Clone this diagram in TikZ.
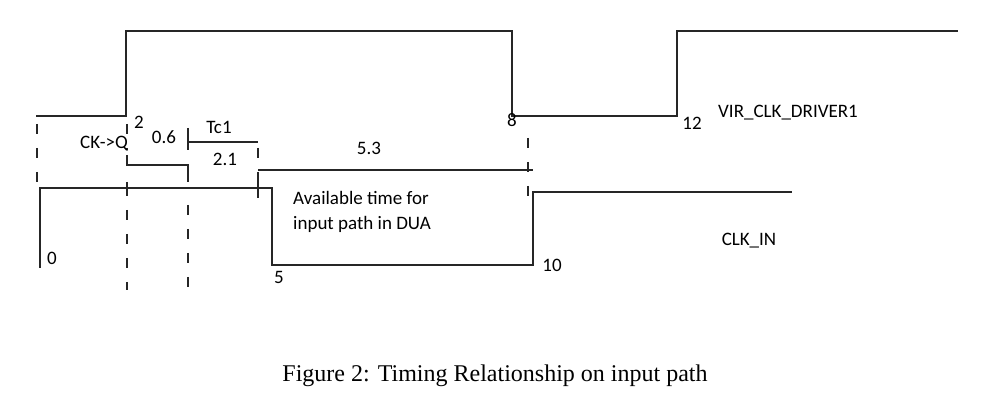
\documentclass[tikz,border=0pt]{standalone}
\usepackage{fontspec}
\setmainfont{Carlito}
\newfontfamily\capfont{Liberation Serif}
\begin{document}
\begin{tikzpicture}[x=1pt,y=-1pt,
  wave/.style={line width=1.2pt,black!85},
  dsh/.style={line width=1.1pt,black!85,dash pattern=on 10pt off 14pt},
  lbl/.style={font=\fontsize{19}{22}\selectfont,inner sep=0pt}]
\useasboundingbox (0,0) rectangle (988,411);
% VIR_CLK_DRIVER1
\draw[wave] (36,116) -- (126,116) -- (126,31) -- (512,31) -- (512,116) -- (677,116) -- (677,31) -- (958,31);
% CLK_IN
\draw[wave] (40,268) -- (40,188) -- (272,188) -- (272,265) -- (533,265) -- (533,192) -- (792,192);
% dashed guides
\draw[dsh] (37,124) -- (37,188);
\draw[dsh] (127,124) -- (127,150);
\draw[dsh] (127,210) -- (127,290);
\draw[dsh] (188,205) -- (188,295);
\draw[dsh] (258,148) -- (258,198);
\draw[dsh] (528,138) -- (528,200);
% brackets
\draw[wave] (127,155) -- (127,165) -- (188,165) -- (188,182);
\draw[wave] (188,128) -- (188,150);
\draw[wave] (188,142) -- (258,142);
\draw[wave] (258,170) -- (528,170);
\draw[wave] (523,170) -- (533,170);
\foreach \x in {127,258} \draw[wave] (\x,182) -- (\x,196);
% labels
\node[lbl] (l2) at (139,122) {2};
\node[lbl] (lck) at (104,144) {CK->Q};
\node[lbl] (l06) at (164,137) {0.6};
\node[lbl] (ltc) at (219,127) {Tc1};
\node[lbl] (l21) at (225,159) {2.1};
\node[lbl] (l53) at (369,148) {5.3};
\node[lbl,align=left,anchor=west] (lav) at (293,212) {Available time for\\[3pt]input path in DUA};
\node[lbl] (l0) at (52,258) {0};
\node[lbl] (l5) at (279,277) {5};
\node[lbl] (l8) at (512,120) {8};
\node[lbl] (l10) at (552,265) {10};
\node[lbl] (l12) at (692,123) {12};
\node[lbl] (lvir) at (788,113) {VIR\_CLK\_DRIVER1};
\node[lbl] (lclk) at (749,241) {CLK\_IN};
\node[inner sep=0pt,font=\capfont\fontsize{24}{28}\selectfont] (cap) at (495,376) {Figure 2: Timing Relationship on input path};
\end{tikzpicture}
\end{document}
